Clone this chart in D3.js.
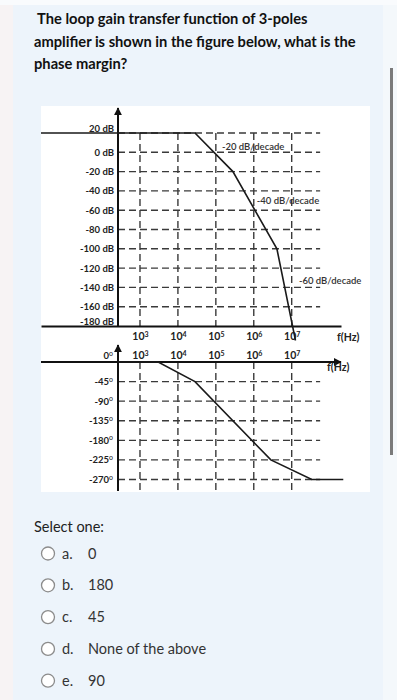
<!DOCTYPE html>
<html>
<head>
<meta charset="utf-8">
<script src="https://cdn.jsdelivr.net/npm/d3@7"></script>
<style>
  body { margin: 0; background: #edf4fb; overflow: hidden; }
  svg { display: block; }
  .lbl { font-family: Lato, "Open Sans", sans-serif; font-weight: 700; fill: #222; }
</style>
</head>
<body>
<svg id="page" width="397" height="700"></svg>
<script>
// question text
const titleLines = [
  "The loop gain transfer function of 3-poles",
  "amplifier is shown in the figure below,  what is the",
  "phase margin?"
];
const optionKeys = ["a.", "b.", "c.", "d.", "e."];
const optionValues = ["0", "180", "45", "None of the above", "90"];

// chart values (frequency given as log10 of Hz)
const decades = [3, 4, 5, 6, 7];
const magTicks = [20, 0, -20, -40, -60, -80, -100, -120, -140, -160, -180];
const phaseTicks = [0, -45, -90, -135, -180, -225, -270];
const magLogF = [0.39, 4.45, 5.45, 6.61, 7.1];
const magDb = [20, 20, -20, -100, -195];
const phaseLogF = [2.42, 3.48, 4.45, 6.45, 7.53, 8.36];
const phaseDeg = [0, 0, -45, -225, -270, -270];
const slopeText = ["-20 dB/decade", "-40 dB/decade", "-60 dB/decade"];
const slopeLogF = [5.16, 6.08, 7.19];
const slopeDb = [5.5, -50, -133];
const axisLogF = 2.42;

const svg = d3.select("#page");

// page chrome
svg.append("rect").attr("x", 0).attr("y", 0).attr("width", 397).attr("height", 700).attr("fill", "#edf4fb");
svg.append("rect").attr("x", 0).attr("y", 0).attr("width", 13).attr("height", 700).attr("fill", "#f7f3f4");
svg.append("rect").attr("x", 383).attr("y", 0).attr("width", 14).attr("height", 700).attr("fill", "#f4f8fb");
svg.append("rect").attr("x", 0).attr("y", 0).attr("width", 397).attr("height", 5).attr("fill", "#f9fbfd");
svg.append("rect").attr("x", 390).attr("y", 68).attr("width", 3).attr("height", 387).attr("fill", "#7a7a7a");

svg.selectAll(".title").data(titleLines).enter()
  .append("text")
  .attr("class", "title")
  .attr("x", (d, i) => i == 0 ? 37 : 34)
  .attr("y", (d, i) => 24 + i * 22.5)
  .style("font-family", "Lato, sans-serif")
  .style("font-weight", 700)
  .style("font-size", "14.7px")
  .style("fill", "#111")
  .text(d => d);

// figure panel
svg.append("rect").attr("x", 41).attr("y", 106).attr("width", 329).attr("height", 386).attr("fill", "#fff");

const x = d3.scaleLog().domain([10 ** 0.39, 10 ** 8.3]).range([41, 341]);
const yMag = d3.scaleLinear().domain([20, -180]).range([133, 326]);
const yPh = d3.scaleLinear().domain([0, -270]).range([362, 479.5]);
const ax = x(10 ** axisLogF);
const gridEnd = x(10 ** 7.75);

const defs = svg.append("defs");
defs.append("marker")
  .attr("id", "arr")
  .attr("viewBox", "0 0 10 10")
  .attr("refX", 9).attr("refY", 5)
  .attr("markerWidth", 4).attr("markerHeight", 4)
  .attr("orient", "auto")
  .append("path").attr("d", "M0,0L10,5L0,10z").attr("fill", "#111");

const dash = "7,4";
const gridColor = "#3a3a3a";

// ---------- magnitude plot ----------
const mag = svg.append("g");

mag.selectAll(".hgrid").data(magTicks.slice(0, -1)).enter()
  .append("line")
  .attr("x1", ax).attr("x2", gridEnd)
  .attr("y1", d => yMag(d)).attr("y2", d => yMag(d))
  .attr("stroke", gridColor).attr("stroke-width", 1.4).attr("stroke-dasharray", dash);

mag.selectAll(".vgrid").data(decades).enter()
  .append("line")
  .attr("x1", d => x(10 ** d)).attr("x2", d => x(10 ** d))
  .attr("y1", yMag(20)).attr("y2", yMag(-180))
  .attr("stroke", gridColor).attr("stroke-width", 1.4).attr("stroke-dasharray", dash);

// axes
const magX = d3.axisBottom(x).tickValues(decades.map(d => 10 ** d)).tickSize(0).tickPadding(3).tickFormat("");
const gMagX = mag.append("g").attr("transform", `translate(0,${yMag(-180)})`).call(magX);
gMagX.select(".domain").attr("stroke", "#111").attr("stroke-width", 2);
gMagX.selectAll(".tick text")
  .attr("class", "lbl").attr("dy", "1.05em").style("font-size", "10.5px")
  .each(function(d) {
    const t = d3.select(this);
    t.append("tspan").text("10");
    t.append("tspan").attr("dy", "-0.45em").style("font-size", "7px").text(Math.round(Math.log10(d)));
  });

const magY = d3.axisLeft(yMag).tickValues(magTicks).tickSize(0).tickPadding(4).tickFormat(d => d + " dB");
const gMagY = mag.append("g").attr("transform", `translate(${ax},0)`).call(magY);
gMagY.select(".domain").remove();
gMagY.selectAll(".tick text").attr("class", "lbl").style("font-size", "9.5px")
  .attr("dy", d => (d == 20 || d == -180) ? "-0.2em" : "0.32em");

mag.append("line")
  .attr("x1", ax).attr("x2", ax).attr("y1", yMag(-180)).attr("y2", 108)
  .attr("stroke", "#111").attr("stroke-width", 2).attr("marker-end", "url(#arr)");

mag.append("text").attr("class", "lbl").attr("x", 337).attr("y", 341).style("font-size", "10.5px").text("f(Hz)");

const magLine = d3.line().x(d => x(10 ** d[0])).y(d => yMag(d[1]));
mag.append("path")
  .datum(magLogF.map((f, i) => [f, magDb[i]]))
  .attr("d", magLine)
  .attr("fill", "none").attr("stroke", "#1a1a1a").attr("stroke-width", 1.6);

mag.selectAll(".slope").data(slopeText).enter()
  .append("text")
  .attr("class", "lbl")
  .attr("x", (d, i) => x(10 ** slopeLogF[i]))
  .attr("y", (d, i) => yMag(slopeDb[i]))
  .attr("dy", "0.35em")
  .style("font-size", "9.5px").style("font-weight", 600).style("fill", "#333")
  .text(d => d);

// ---------- phase plot ----------
const ph = svg.append("g");

ph.selectAll(".hgrid").data(phaseTicks.slice(1)).enter()
  .append("line")
  .attr("x1", ax).attr("x2", gridEnd)
  .attr("y1", d => yPh(d)).attr("y2", d => yPh(d))
  .attr("stroke", gridColor).attr("stroke-width", 1.4).attr("stroke-dasharray", dash);

ph.selectAll(".vgrid").data(decades).enter()
  .append("line")
  .attr("x1", d => x(10 ** d)).attr("x2", d => x(10 ** d))
  .attr("y1", yPh(0)).attr("y2", 490)
  .attr("stroke", gridColor).attr("stroke-width", 1.4).attr("stroke-dasharray", dash);

const phX = d3.axisTop(x).tickValues(decades.map(d => 10 ** d)).tickSize(0).tickPadding(3).tickFormat("");
const gPhX = ph.append("g").attr("transform", `translate(0,${yPh(0)})`).call(phX);
gPhX.select(".domain").remove();
gPhX.selectAll(".tick text")
  .attr("class", "lbl").style("font-size", "10.5px")
  .each(function(d) {
    const t = d3.select(this);
    t.append("tspan").text("10");
    t.append("tspan").attr("dy", "-0.45em").style("font-size", "7px").text(Math.round(Math.log10(d)));
  });

ph.append("line")
  .attr("x1", x.range()[0]).attr("x2", x.range()[1]).attr("y1", yPh(0)).attr("y2", yPh(0))
  .attr("stroke", "#111").attr("stroke-width", 2).attr("marker-end", "url(#arr)");

const phY = d3.axisLeft(yPh).tickValues(phaseTicks).tickSize(0).tickPadding(5).tickFormat("");
const gPhY = ph.append("g").attr("transform", `translate(${ax},0)`).call(phY);
gPhY.select(".domain").remove();
gPhY.selectAll(".tick text")
  .attr("class", "lbl").style("font-size", "9.5px")
  .attr("dy", d => d == 0 ? "-0.35em" : "0.32em")
  .each(function(d) {
    const t = d3.select(this);
    t.append("tspan").text(d);
    t.append("tspan").attr("dy", "-0.5em").style("font-size", "7px").style("font-weight", 400).text("o");
  });

ph.append("line")
  .attr("x1", ax).attr("x2", ax).attr("y1", 491).attr("y2", 345)
  .attr("stroke", "#111").attr("stroke-width", 2).attr("marker-end", "url(#arr)");

ph.append("text").attr("class", "lbl").attr("x", 327).attr("y", 371).style("font-size", "10.5px").text("f(Hz)");

const phLine = d3.line().x(d => x(10 ** d[0])).y(d => yPh(d[1]));
ph.append("path")
  .datum(phaseLogF.map((f, i) => [f, phaseDeg[i]]))
  .attr("d", phLine)
  .attr("fill", "none").attr("stroke", "#1a1a1a").attr("stroke-width", 1.6);

// ---------- answers ----------
svg.append("text")
  .attr("x", 34).attr("y", 532)
  .style("font-family", "Lato, sans-serif").style("font-size", "14.5px").style("fill", "#222")
  .text("Select one:");

const opt = svg.selectAll(".opt").data(optionKeys).enter()
  .append("g")
  .attr("transform", (d, i) => `translate(0,${553.5 + i * 31.8})`);
opt.append("circle").attr("cx", 48).attr("cy", 0).attr("r", 6.5)
  .attr("fill", "#fff").attr("stroke", "#8c8c8c").attr("stroke-width", 1.3);
opt.append("text").attr("x", 62).attr("y", 5)
  .style("font-family", "Lato, sans-serif").style("font-size", "14.5px").style("fill", "#333")
  .text(d => d);
opt.append("text").attr("x", 88).attr("y", 5)
  .style("font-family", "Lato, sans-serif").style("font-size", "14.5px").style("fill", "#333")
  .text((d, i) => optionValues[i]);
</script>
</body>
</html>
